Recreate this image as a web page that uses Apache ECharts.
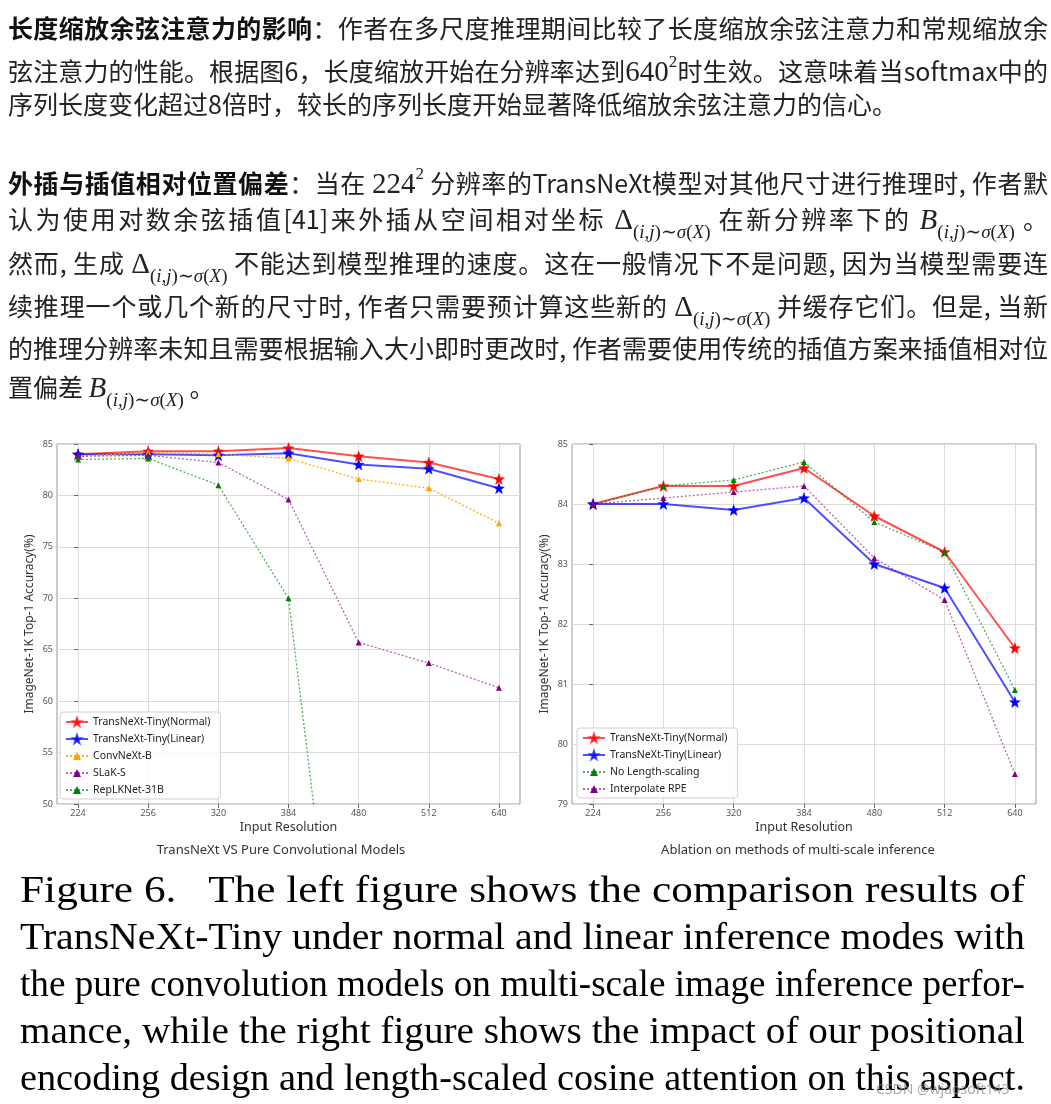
<!DOCTYPE html>
<html><head><meta charset="utf-8">
<script src="https://cdn.jsdelivr.net/npm/echarts@6/dist/echarts.min.js"></script>
<style>
html,body{margin:0;padding:0;background:#fff;}
#wrap{position:relative;width:1051px;height:1104px;overflow:hidden;}
#chart{position:absolute;left:0;top:0;width:1051px;height:1104px;}
.ln{position:absolute;left:8px;width:1040px;font-family:"Noto Sans CJK SC","Noto Sans",sans-serif;font-size:25px;color:#222;line-height:38px;height:38px;text-align:justify;text-align-last:justify;z-index:2;}
.ln.left{text-align:left;text-align-last:left;}
.ln b{font-weight:bold;color:#111;}
.m{font-family:"Liberation Serif","DejaVu Serif",serif;font-size:29px;}
.m sup{font-size:17px;position:relative;top:-3px;}
.m sub{font-size:19px;vertical-align:-9px;}
.cap{position:absolute;left:20px;font-family:"Liberation Serif","Times New Roman",serif;font-size:37px;color:#000;line-height:47px;height:47px;white-space:nowrap;transform-origin:0 0;z-index:2;}
.wm{position:absolute;left:876px;top:1079px;font-family:"Noto Sans",sans-serif;font-size:14px;color:rgba(140,140,140,0.75);z-index:3;}
</style></head>
<body><div id="wrap">
<div id="chart"></div>
<div class="ln" style="top:8px"><b>长度缩放余弦注意力的影响</b>：作者在多尺度推理期间比较了长度缩放余弦注意力和常规缩放余</div>
<div class="ln" style="top:46px">弦注意力的性能。根据图6，长度缩放开始在分辨率达到<span class="m">640<sup>2</sup></span>时生效。这意味着当softmax中的</div>
<div class="ln left" style="top:84px">序列长度变化超过8倍时，较长的序列长度开始显著降低缩放余弦注意力的信心。</div>

<div class="ln" style="top:158px"><b>外插与插值相对位置偏差</b>：当在 <span class="m">224<sup>2</sup></span> 分辨率的TransNeXt模型对其他尺寸进行推理时, 作者默</div>
<div class="ln" style="top:199px">认为使用对数余弦插值[41]来外插从空间相对坐标 <span class="m">Δ<sub>(<i>i,j</i>)∼<i>σ</i>(<i>X</i>)</sub></span> 在新分辨率下的 <span class="m"><i>B</i><sub>(<i>i,j</i>)∼<i>σ</i>(<i>X</i>)</sub></span> 。</div>
<div class="ln" style="top:243px">然而, 生成 <span class="m">Δ<sub>(<i>i,j</i>)∼<i>σ</i>(<i>X</i>)</sub></span> 不能达到模型推理的速度。这在一般情况下不是问题, 因为当模型需要连</div>
<div class="ln" style="top:286px">续推理一个或几个新的尺寸时, 作者只需要预计算这些新的 <span class="m">Δ<sub>(<i>i,j</i>)∼<i>σ</i>(<i>X</i>)</sub></span> 并缓存它们。但是, 当新</div>
<div class="ln" style="top:328px">的推理分辨率未知且需要根据输入大小即时更改时, 作者需要使用传统的插值方案来插值相对位</div>
<div class="ln left" style="top:367px">置偏差 <span class="m"><i>B</i><sub>(<i>i,j</i>)∼<i>σ</i>(<i>X</i>)</sub></span> 。</div>

<div class="cap" style="top:866px">Figure 6.&nbsp;&nbsp; The left figure shows the comparison results of</div>
<div class="cap" style="top:913px">TransNeXt-Tiny under normal and linear inference modes with</div>
<div class="cap" style="top:960px">the pure convolution models on multi-scale image inference perfor-</div>
<div class="cap" style="top:1007px">mance, while the right figure shows the impact of our positional</div>
<div class="cap" style="top:1054px">encoding design and length-scaled cosine attention on this aspect.</div>
<div class="wm">CSDN @wjaosoft143</div>
</div>
<script>
// ---- data ----
const resolutions = ['224', '256', '320', '384', '480', '512', '640'];
const normalAcc   = [84.0, 84.3, 84.3, 84.6, 83.8, 83.2, 81.6];
const linearAcc   = [84.0, 84.0, 83.9, 84.1, 83.0, 82.6, 80.7];
const convnextB   = [83.8, 84.2, 84.0, 83.6, 81.6, 80.7, 77.3];
const slakS       = [83.8, 83.9, 83.2, 79.6, 65.7, 63.7, 61.3];
const replknet31B = [83.5, 83.6, 81.0, 70.0, 14.0, null, null];
const noLenScale  = [84.0, 84.3, 84.4, 84.7, 83.7, 83.2, 80.9];
const interpRPE   = [84.0, 84.1, 84.2, 84.3, 83.1, 82.4, 79.5];
const leftYRange  = [50, 85, 5];
const rightYRange = [79, 85, 1];
const leftTitle  = 'TransNeXt VS Pure Convolutional Models';
const rightTitle = 'Ablation on methods of multi-scale inference';
const xName = 'Input Resolution';
const yName = 'ImageNet-1K Top-1 Accuracy(%)';

// caption lines: stretch each to the full justified width
document.querySelectorAll('.cap').forEach(el => {
  const w = el.getBoundingClientRect().width;
  el.style.transform = 'scaleX(' + (1005 / w) + ')';
});

function starPath() {
  const p = [];
  for (let i = 0; i < 10; i++) {
    const r = i % 2 ? 0.42 : 1;
    const a = -Math.PI / 2 + i * Math.PI / 5;
    p.push((i ? 'L' : 'M') + (r * Math.cos(a)).toFixed(3) + ',' + (r * Math.sin(a)).toFixed(3));
  }
  return 'path://' + p.join(' ') + 'Z';
}
const STAR = starPath();
const idx = resolutions.map((_, i) => i);
const pairs = arr => arr.map((v, i) => [i, v]);
const FONT = '"Noto Sans","Open Sans",sans-serif';

function xAxis(gi) {
  return {
    type: 'value', gridIndex: gi, min: -0.3, max: 6.3,
    name: xName, nameLocation: 'middle', nameGap: 17,
    nameTextStyle: { fontSize: 12.5, color: '#333', fontFamily: FONT },
    axisLine: { show: false },
    axisTick: { show: true, length: 4, customValues: idx, lineStyle: { color: '#666' } },
    axisLabel: { customValues: idx, fontSize: 9, color: '#555', margin: 5, fontFamily: FONT,
      formatter: v => resolutions[Math.round(v)] },
    splitLine: { show: true, lineStyle: { color: '#dcdcdc', width: 1 } }
  };
}
function yAxis(gi, r) {
  return {
    type: 'value', gridIndex: gi, min: r[0], max: r[1], interval: r[2],
    name: yName, nameLocation: 'middle', nameGap: 21, nameRotate: 90,
    nameTextStyle: { fontSize: 12, color: '#333', fontFamily: FONT },
    axisLine: { show: false },
    axisTick: { show: true, length: 4, lineStyle: { color: '#666' } },
    axisLabel: { fontSize: 9, color: '#555', margin: 4, fontFamily: FONT },
    splitLine: { show: true, lineStyle: { color: '#dcdcdc', width: 1 } }
  };
}
function solid(name, data, line, mark, gi) {
  return { type: 'line', name, xAxisIndex: gi, yAxisIndex: gi, data: pairs(data),
    symbol: STAR, symbolSize: 11, lineStyle: { color: line, width: 2 },
    itemStyle: { color: mark, borderColor: line, borderWidth: 0.5 }, connectNulls: false };
}
function dotted(name, data, line, mark, gi) {
  return { type: 'line', name, xAxisIndex: gi, yAxisIndex: gi, data: pairs(data),
    symbol: 'triangle', symbolSize: 6, lineStyle: { color: line, width: 1.3, type: [2, 2] },
    itemStyle: { color: mark } };
}
const RED = 'rgba(255,30,30,0.78)', BLUE = 'rgba(30,30,255,0.78)';
const legendCommon = {
  orient: 'vertical', itemWidth: 22, itemHeight: 10, itemGap: 5,
  backgroundColor: 'rgba(255,255,255,0.85)', borderColor: '#d0d0d0', borderWidth: 1, borderRadius: 3,
  padding: [4, 10, 3, 5], textStyle: { fontSize: 10.5, color: '#222', fontFamily: FONT, lineHeight: 12 },
  selectedMode: false
};
const option = {
  animation: false,
  grid: [
    { left: 57, right: 531, top: 444, height: 360, show: true, borderColor: '#999', borderWidth: 1 },
    { left: 572, right: 15, top: 444, height: 360, show: true, borderColor: '#999', borderWidth: 1 }
  ],
  xAxis: [xAxis(0), xAxis(1)],
  yAxis: [yAxis(0, leftYRange), yAxis(1, rightYRange)],
  legend: [
    Object.assign({ left: 60, top: 712, data: ['TransNeXt-Tiny(Normal)', 'TransNeXt-Tiny(Linear)', 'ConvNeXt-B', 'SLaK-S', 'RepLKNet-31B'] }, legendCommon),
    Object.assign({ left: 577, top: 728, data: ['TransNeXt-Tiny(Normal)', 'TransNeXt-Tiny(Linear)', 'No Length-scaling', 'Interpolate RPE'] }, legendCommon)
  ],
  graphic: [
    { type: 'text', x: 281, y: 850, style: { text: leftTitle, textAlign: 'center', textVerticalAlign: 'middle', fontSize: 13, fill: '#333', fontFamily: FONT } },
    { type: 'text', x: 798, y: 850, style: { text: rightTitle, textAlign: 'center', textVerticalAlign: 'middle', fontSize: 13, fill: '#333', fontFamily: FONT } }
  ],
  series: [
    solid('TransNeXt-Tiny(Normal)', normalAcc, RED, '#ff0000', 0),
    solid('TransNeXt-Tiny(Linear)', linearAcc, BLUE, '#0000ff', 0),
    dotted('ConvNeXt-B', convnextB, 'rgba(255,165,0,0.9)', '#ffa500', 0),
    dotted('SLaK-S', slakS, 'rgba(128,0,128,0.6)', '#800080', 0),
    dotted('RepLKNet-31B', replknet31B, 'rgba(0,128,0,0.65)', '#008000', 0),
    solid('TransNeXt-Tiny(Normal)', normalAcc, RED, '#ff0000', 1),
    solid('TransNeXt-Tiny(Linear)', linearAcc, BLUE, '#0000ff', 1),
    dotted('No Length-scaling', noLenScale, 'rgba(0,128,0,0.65)', '#008000', 1),
    dotted('Interpolate RPE', interpRPE, 'rgba(128,0,128,0.6)', '#800080', 1)
  ]
};
const chart = echarts.init(document.getElementById('chart'), null, { renderer: 'canvas' });
chart.setOption(option);
</script>
</body></html>
